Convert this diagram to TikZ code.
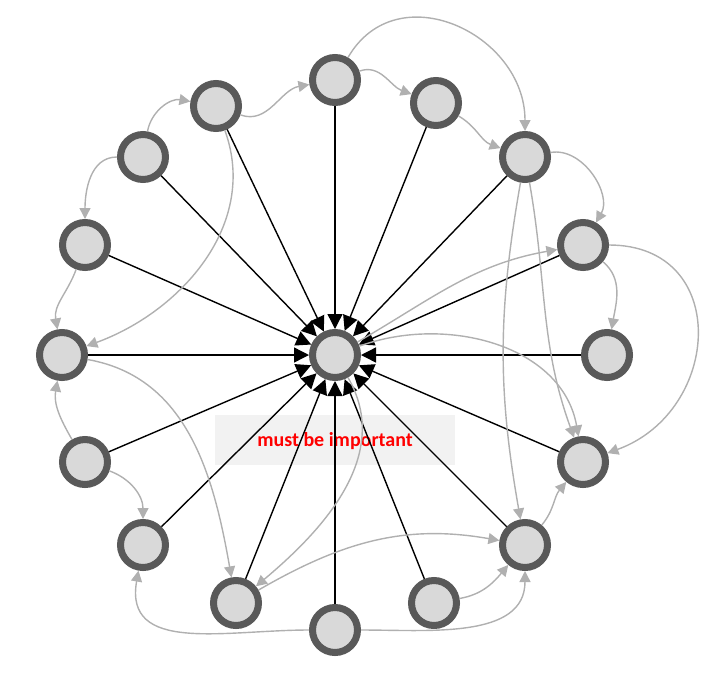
\documentclass[tikz,border=0pt]{standalone}
\usepackage{fontspec}
\setmainfont{Carlito}
\usetikzlibrary{arrows.meta}
\definecolor{nfill}{HTML}{D9D9D9}
\definecolor{nline}{HTML}{595959}
\definecolor{gline}{HTML}{B0B0B0}
\begin{document}
\begin{tikzpicture}[x=1pt,y=-1pt,
  nd/.style={circle,fill=nfill,draw=nline,line width=7pt,minimum size=45pt,inner sep=0pt},
  blk/.style={-{Triangle[length=15pt,width=15pt]},black,line width=1.4pt},
  gr/.style={-{Triangle[length=11pt,width=11pt]},gline,line width=1.4pt}]
\useasboundingbox (0,0) rectangle (722,686);
\node[fill=black!5,minimum width=240pt,minimum height=50pt] (lbl) at (335,440) {};
\node[text=red,font=\bfseries\fontsize{20}{24}\selectfont] (t) at (335,441) {must be important};
\node[nd] (c) at (335,355) {};
\foreach \n/\x/\y in {1/335/80,2/436/103,3/525/157,4/583/245,5/607/355,6/583/462,7/525/545,8/434/603,9/335/630,10/236/603,11/143/545,12/85/462,13/62/355,14/85/245,15/143/157,16/216/106}{
  \node[nd] (n\n) at (\x,\y) {};
  \draw[blk] (n\n) -- (c);
}
\draw[gr] (n1) to[out=20,in=160] (n2);
\draw[gr] (n1) to[out=60,in=90,looseness=1.3] (n3);
\draw[gr] (n2) to[out=-30,in=160] (n3);
\draw[gr] (n3) to[out=10,in=60] (n4);
\draw[gr] (n3) to[out=-100,in=100] (n7);
\draw[gr] (n3) to[out=-80,in=110] (n6);
\draw[gr] (n4) to[out=-40,in=80] (n5);
\draw[gr] (n4) to[out=0,in=20,looseness=1.5] (n6);
\draw[gr] (c) to[out=30,in=190] (n4);
\draw[gr] (c) to[out=20,in=100] (n6);
\draw[gr] (n7) to[out=50,in=-130] (n6);
\draw[gr] (n8) to[out=10,in=-130] (n7);
\draw[gr] (n10) to[out=30,in=170] (n7);
\draw[gr] (n9) to[out=0,in=-90] (n7);
\draw[gr] (n9) to[out=180,in=-100,looseness=1.2] (n11);
\draw[gr] (c) to[out=-60,in=40] (n10);
\draw[gr] (n13) to[out=-10,in=100] (n10);
\draw[gr] (n12) to[out=120,in=-100] (n13);
\draw[gr] (n12) to[out=-20,in=90] (n11);
\draw[gr] (n14) to[out=-110,in=100] (n13);
\draw[gr] (n15) to[out=180,in=90] (n14);
\draw[gr] (n15) to[out=80,in=170] (n16);
\draw[gr] (n16) to[out=-20,in=190] (n1);
\draw[gr] (n16) to[out=-70,in=20] (n13);
\end{tikzpicture}
\end{document}
